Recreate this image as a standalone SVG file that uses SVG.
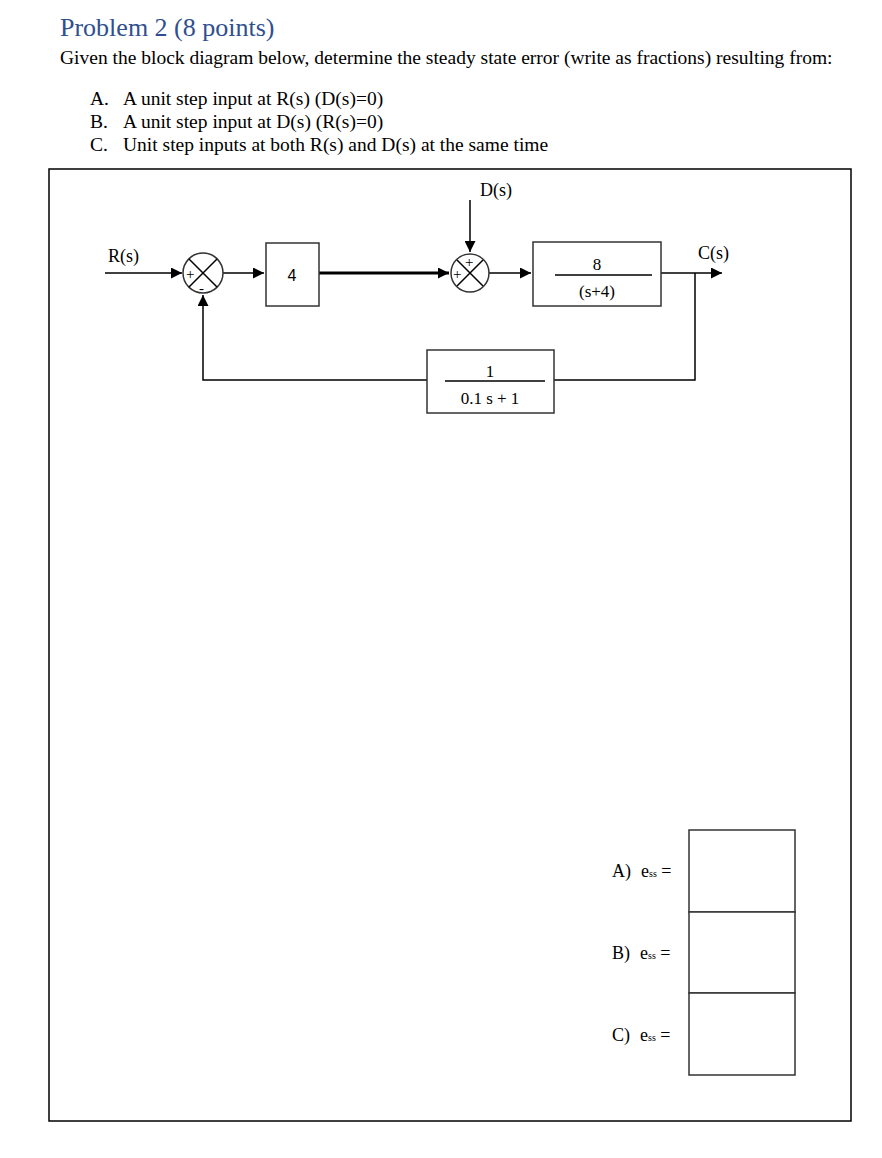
<svg xmlns="http://www.w3.org/2000/svg" width="882" height="1158" viewBox="0 0 882 1158">
<style>
.t{font-family:"Liberation Serif",serif;fill:#000}
.h{font-family:"Liberation Serif",serif;fill:#2f4f8f;font-size:26px}
.ln{stroke:#000;stroke-width:1.5;fill:none}
.bx{stroke:#333;stroke-width:1.5;fill:#fff}
</style>
<defs><marker id="a" viewBox="0 0 10 10" refX="10" refY="5" markerWidth="11" markerHeight="11" markerUnits="userSpaceOnUse" orient="auto"><path d="M0,0L10,5L0,10z" fill="#000"/></marker></defs>
<rect width="882" height="1158" fill="#fff"/>
<text class="h" x="60" y="36">Problem 2 (8 points)</text>
<text class="t" x="60" y="64" font-size="19.5">Given the block diagram below, determine the steady state error (write as fractions) resulting from:</text>
<g class="t" font-size="19.5">
<text x="90" y="105">A.</text><text x="123" y="105">A unit step input at R(s) (D(s)=0)</text>
<text x="90" y="128">B.</text><text x="123" y="128">A unit step input at D(s) (R(s)=0)</text>
<text x="90" y="151">C.</text><text x="123" y="151">Unit step inputs at both R(s) and D(s) at the same time</text>
</g>
<rect x="49" y="169" width="802" height="952" fill="none" stroke="#000" stroke-width="1.5"/>
<g id="connectors">
<path class="ln" d="M105,273H182" marker-end="url(#a)"/>
<path class="ln" d="M223,273H264" marker-end="url(#a)"/>
<path d="M319,273H449" stroke="#000" stroke-width="3" marker-end="url(#a)"/>
<path class="ln" d="M470,200V252" marker-end="url(#a)"/>
<path class="ln" d="M489,273H531" marker-end="url(#a)"/>
<path class="ln" d="M661,273H722" marker-end="url(#a)"/>
<path class="ln" d="M695,273V380H554"/>
<path class="ln" d="M427,380H203V295" marker-end="url(#a)"/>
</g>
<g id="sum1"><circle cx="203" cy="273" r="20" class="bx"/><path class="ln" d="M189,259L217,287M217,259L189,287"/><text class="t" x="186" y="279" font-size="15">+</text><text class="t" x="199" y="293" font-size="15">-</text></g>
<g id="sum2"><circle cx="470" cy="273" r="19" class="bx"/><path class="ln" d="M457,260L483,286M483,260L457,286"/><text class="t" x="453" y="279" font-size="15">+</text><text class="t" x="465" y="267" font-size="15">+</text></g>
<g id="k4"><rect x="266" y="243" width="53" height="63" class="bx"/><text x="292" y="281" font-family="Liberation Sans,sans-serif" font-size="16" text-anchor="middle">4</text></g>
<g id="g"><rect x="533" y="242" width="128" height="64" class="bx"/><text class="t" x="597" y="270" font-size="17" text-anchor="middle">8</text><path class="ln" d="M555,275H652" stroke-width="1"/><text class="t" x="597" y="297" font-size="17" text-anchor="middle">(s+4)</text></g>
<g id="h"><rect x="427" y="350" width="127" height="63" class="bx"/><text class="t" x="490" y="377" font-size="17" text-anchor="middle">1</text><path class="ln" d="M445,381H545" stroke-width="1"/><text class="t" x="490" y="404" font-size="17" text-anchor="middle">0.1 s + 1</text></g>
<text class="t" x="108" y="262" font-size="18">R(s)</text>
<text class="t" x="480" y="196" font-size="18">D(s)</text>
<text class="t" x="698" y="259" font-size="18">C(s)</text>
<g id="answers">
<rect x="689" y="830" width="106" height="82" class="bx" stroke-width="1"/>
<rect x="689" y="912" width="106" height="81" class="bx" stroke-width="1"/>
<rect x="689" y="993" width="106" height="82" class="bx" stroke-width="1"/>
<text class="t" x="612" y="877" font-size="18">A)<tspan dx="10">e</tspan><tspan font-size="10">ss</tspan> =</text>
<text class="t" x="612" y="959" font-size="18">B)<tspan dx="10">e</tspan><tspan font-size="10">ss</tspan> =</text>
<text class="t" x="612" y="1041" font-size="18">C)<tspan dx="10">e</tspan><tspan font-size="10">ss</tspan> =</text>
</g>
</svg>
